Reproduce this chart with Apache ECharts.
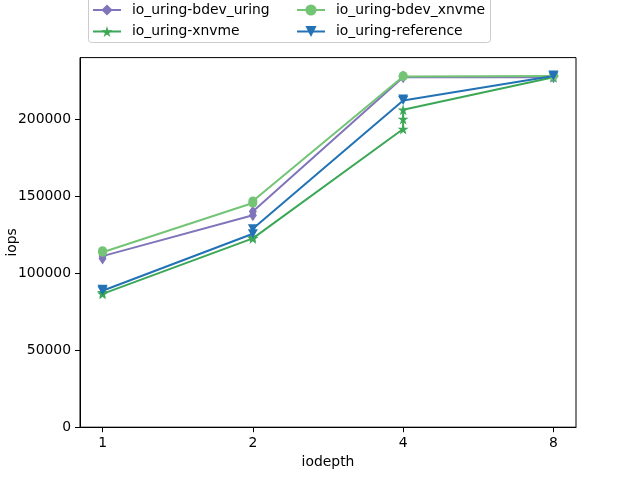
<!DOCTYPE html>
<html>
<head>
<meta charset="utf-8">
<script src="https://cdn.jsdelivr.net/npm/echarts@6/dist/echarts.min.js"></script>
<style>html,body{margin:0;padding:0;background:#fff}#c{width:640px;height:480px}</style>
</head>
<body>
<div id="c"></div>
<script>
// Data (runs per iodepth)
const depths = [1, 2, 4, 8];
const yTicks = [0, 50000, 100000, 150000, 200000];
const seriesNames = ['io_uring-bdev_uring', 'io_uring-xnvme', 'io_uring-bdev_xnvme', 'io_uring-reference'];
const bdevUringRuns = [[109500, 111000], [137500, 140000], [227000, 227500], [227000, 227500]];
const xnvmeRuns = [[86500, 87500], [122500, 123500], [193500, 200000, 206000], [227000, 227500]];
const bdevXnvmeRuns = [[113500, 114500], [145500, 146800], [227500, 228000], [227800, 228200]];
const referenceRuns = [[88500, 89500], [125500, 128800], [212000, 213000], [227800, 228500]];

const colors = ['#8075ba', '#3ba757', '#74c476', '#2272b5'];
const symbols = [
  'diamond',
  'path://M50,0 L61,35 L98,35 L68,57 L79,91 L50,70 L21,91 L32,57 L2,35 L39,35 Z',
  'circle',
  'path://M0,0 L10,0 L5,9 Z'
];
const symbolSizes = [[8, 12], 11, 9, [10, 9]];
const allRuns = [bdevUringRuns, xnvmeRuns, bdevXnvmeRuns, referenceRuns];

function buildLine(runs) {
  const out = [];
  runs.forEach((vals, i) => {
    vals.slice().sort((a, b) => a - b).forEach(v => out.push([depths[i], v]));
  });
  return out;
}

const FONT = 'DejaVu Sans';
const FS = 13.9;

const chart = echarts.init(document.getElementById('c'), null, {renderer: 'canvas'});
chart.setOption({
  animation: false,
  backgroundColor: '#fff',
  textStyle: {fontFamily: FONT},
  grid: {left: 80, right: 64, top: 57.6, bottom: 52.8, show: true, borderColor: '#000', borderWidth: 1,
         backgroundColor: 'transparent', containLabel: false, outerBoundsMode: 'none'},
  graphic: [{
    type: 'rect', left: 88, top: -6, z: 0,
    shape: {width: 402, height: 48, r: 3},
    style: {fill: 'rgba(255,255,255,0.8)', stroke: '#cccccc', lineWidth: 1}
  }],
  legend: [
    {
      data: [seriesNames[0], seriesNames[1]], orient: 'vertical', left: 87, top: -2,
      itemWidth: 28, itemHeight: 14, itemGap: 7.5,
      textStyle: {fontFamily: FONT, fontSize: FS, color: '#000', padding: [0, 0, 0, 6]}, z: 5
    },
    {
      data: [seriesNames[2], seriesNames[3]], orient: 'vertical', left: 291, top: -2,
      itemWidth: 28, itemHeight: 14, itemGap: 7.5,
      textStyle: {fontFamily: FONT, fontSize: FS, color: '#000', padding: [0, 0, 0, 6]}, z: 5
    }
  ],
  xAxis: {
    type: 'log', logBase: 2, min: Math.pow(2, -0.15), max: Math.pow(2, 3.15),
    name: 'iodepth', nameLocation: 'middle', nameGap: 28, nameMoveOverlap: false,
    nameTextStyle: {fontFamily: FONT, fontSize: FS, color: '#000'},
    axisLine: {show: true, lineStyle: {color: '#000', width: 1}},
    axisTick: {show: true, length: 5, lineStyle: {color: '#000'}, customValues: depths},
    axisLabel: {fontFamily: FONT, fontSize: FS, color: '#000', margin: 9, customValues: depths, formatter: v => String(Math.round(v))},
    splitLine: {show: false}, minorSplitLine: {show: false}
  },
  yAxis: {
    type: 'value', min: 0, max: 239800,
    name: 'iops', nameLocation: 'middle', nameGap: 61, nameRotate: 90, nameMoveOverlap: false,
    nameTextStyle: {fontFamily: FONT, fontSize: FS, color: '#000'},
    axisLine: {show: true, lineStyle: {color: '#000', width: 1}},
    axisTick: {show: true, length: 5, lineStyle: {color: '#000'}, customValues: yTicks},
    axisLabel: {fontFamily: FONT, fontSize: FS, color: '#000', margin: 9, customValues: yTicks, formatter: v => String(v)},
    splitLine: {show: false}
  },
  series: seriesNames.map((name, k) => ({
    name: name, type: 'line', data: buildLine(allRuns[k]),
    z: 2 + k,
    color: colors[k],
    lineStyle: {width: 2, color: colors[k]},
    itemStyle: {color: colors[k], borderWidth: 0},
    symbol: symbols[k], symbolSize: symbolSizes[k], showSymbol: true, showAllSymbol: true
  }))
});
</script>
</body>
</html>
